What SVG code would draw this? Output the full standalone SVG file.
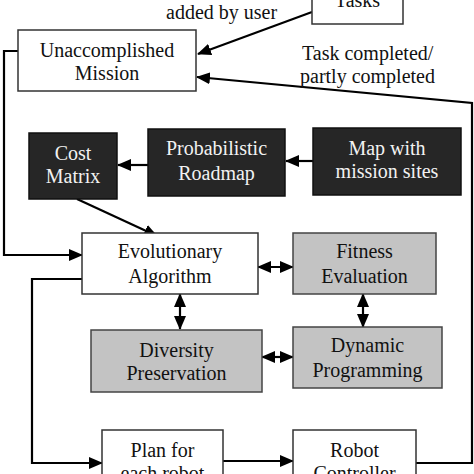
<svg xmlns="http://www.w3.org/2000/svg" width="474" height="474" viewBox="0 0 474 474">
<defs>
<marker id="ah" markerUnits="userSpaceOnUse" markerWidth="14" markerHeight="12" refX="13" refY="6" orient="auto-start-reverse">
<path d="M0,0 L14,6 L0,12 Z" fill="#000"/>
</marker>
</defs>
<style>
text{font-family:"Liberation Serif","Times New Roman",serif;font-size:20px;text-anchor:middle;fill:#111}
.w{fill:#fff;stroke:#333;stroke-width:1.5}
.d{fill:#262626;stroke:#111;stroke-width:1.5}
.g{fill:#c3c3c3;stroke:#444;stroke-width:1.5}
.dt{fill:#f2f2f2}
.c{fill:none;stroke:#000;stroke-width:2.2}
.lbl{text-anchor:start}
</style>
<rect width="474" height="474" fill="#fff"/>
<g id="connectors">
<line class="c" x1="312" y1="12" x2="198" y2="54" marker-end="url(#ah)"/>
<polyline class="c" points="416,463 472,463 472,103 197,77" marker-end="url(#ah)"/>
<polyline class="c" points="18,51 4,51 4,255 82,255" marker-end="url(#ah)"/>
<line class="c" x1="313" y1="161" x2="286" y2="161" marker-end="url(#ah)"/>
<line class="c" x1="148" y1="165" x2="118" y2="165" marker-end="url(#ah)"/>
<line class="c" x1="77" y1="199" x2="157" y2="236" marker-end="url(#ah)"/>
<line class="c" x1="258" y1="267" x2="293" y2="267" marker-start="url(#ah)" marker-end="url(#ah)"/>
<line class="c" x1="180" y1="294" x2="180" y2="329" marker-start="url(#ah)" marker-end="url(#ah)"/>
<line class="c" x1="363" y1="294" x2="363" y2="327" marker-start="url(#ah)" marker-end="url(#ah)"/>
<line class="c" x1="262" y1="357" x2="293" y2="357" marker-start="url(#ah)" marker-end="url(#ah)"/>
<polyline class="c" points="82,279 32,279 32,463 102,463" marker-end="url(#ah)"/>
<line class="c" x1="223" y1="461" x2="293" y2="461" marker-end="url(#ah)"/>
<text class="lbl" x="166" y="19">added by user</text>
<text class="lbl" x="302" y="60">Task completed/</text>
<text class="lbl" x="300" y="83">partly completed</text>
</g>
<g id="tasks">
<rect class="w" x="312" y="-10" width="91" height="34"/>
<text x="357.5" y="7">Tasks</text>
</g>
<g id="unaccomplished">
<rect class="w" x="18" y="30" width="178" height="61"/>
<text x="107" y="57">Unaccomplished</text>
<text x="107" y="80">Mission</text>
</g>
<g id="cost-matrix">
<rect class="d" x="29" y="133" width="88" height="66"/>
<text class="dt" x="73" y="160">Cost</text>
<text class="dt" x="73" y="183">Matrix</text>
</g>
<g id="prm">
<rect class="d" x="148" y="129" width="137" height="67"/>
<text class="dt" x="216.5" y="155">Probabilistic</text>
<text class="dt" x="216.5" y="180">Roadmap</text>
</g>
<g id="map">
<rect class="d" x="313" y="128" width="148" height="67"/>
<text class="dt" x="387" y="155">Map with</text>
<text class="dt" x="387" y="178">mission sites</text>
</g>
<g id="ea">
<rect class="w" x="82" y="233" width="176" height="61"/>
<text x="170" y="258">Evolutionary</text>
<text x="170" y="283">Algorithm</text>
</g>
<g id="fitness">
<rect class="g" x="293" y="233" width="143" height="61"/>
<text x="364.5" y="258">Fitness</text>
<text x="364.5" y="283">Evaluation</text>
</g>
<g id="diversity">
<rect class="g" x="91" y="330" width="171" height="62"/>
<text x="176.5" y="357">Diversity</text>
<text x="176.5" y="380">Preservation</text>
</g>
<g id="dp">
<rect class="g" x="293" y="327" width="149" height="61"/>
<text x="367.5" y="352">Dynamic</text>
<text x="367.5" y="377">Programming</text>
</g>
<g id="plan">
<rect class="w" x="102" y="430" width="121" height="60"/>
<text x="162.5" y="457">Plan for</text>
<text x="162.5" y="480">each robot</text>
</g>
<g id="controller">
<rect class="w" x="293" y="430" width="123" height="60"/>
<text x="354.5" y="457">Robot</text>
<text x="354.5" y="480">Controller</text>
</g>
</svg>
